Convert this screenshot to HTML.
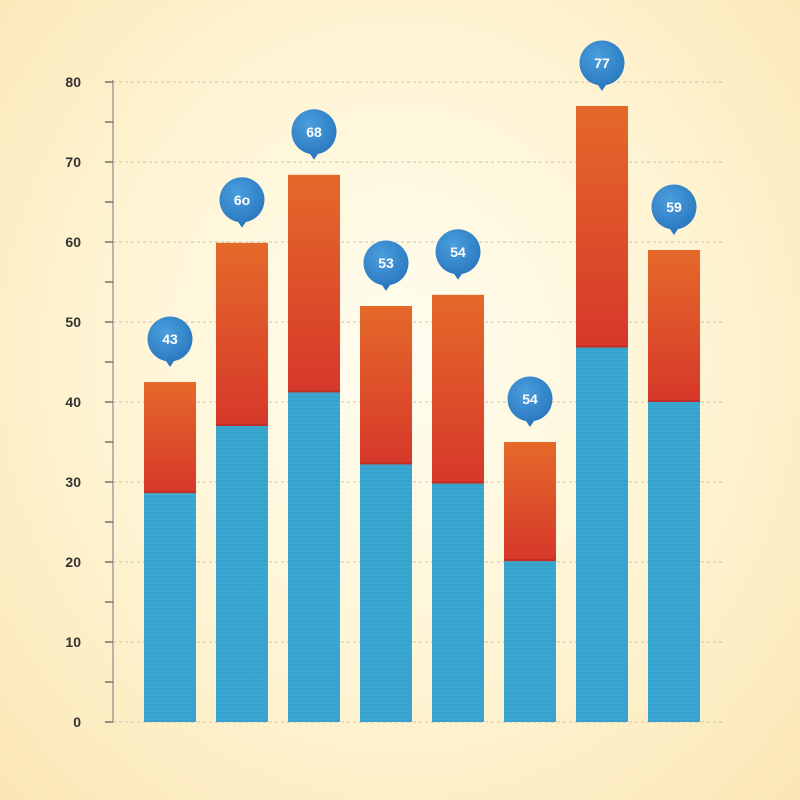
<!DOCTYPE html>
<html><head><meta charset="utf-8"><style>
html,body{margin:0;padding:0;width:800px;height:800px;overflow:hidden}
body{background:radial-gradient(ellipse at 50% 45%,#fffdf0 0%,#fff6d8 45%,#fbe6b4 100%);font-family:"Liberation Sans",sans-serif}
</style></head><body>
<svg id="chart" width="800" height="800" xmlns="http://www.w3.org/2000/svg">
<defs>
<linearGradient id="og" x1="0" y1="0" x2="0" y2="1"><stop offset="0" stop-color="#e5692a"/><stop offset="1" stop-color="#d6382a"/></linearGradient>
<linearGradient id="bg" x1="0" y1="0" x2="0" y2="1"><stop offset="0" stop-color="#3aa8d0"/><stop offset="1" stop-color="#3aa6d3"/></linearGradient>
<pattern id="stripes" width="4" height="4" patternUnits="userSpaceOnUse"><rect width="4" height="2" fill="#2f97c2" opacity="0.35"/></pattern>
<radialGradient id="bub" cx="0.4" cy="0.35" r="0.7"><stop offset="0" stop-color="#4a9fdc"/><stop offset="1" stop-color="#2a78c0"/></radialGradient>
</defs>
<g id="grid"></g><g id="bars"></g><g id="bubbles"></g>
</svg>
<script>
const categories=["A","B","C","D","E","F","G","H"];
const blueValues=[28.6,37,41.2,32.2,29.8,20.1,46.8,40];
const totalValues=[42.5,59.9,68.4,52,53.4,35,77,59];
const bubbleLabels=["43","6o","68","53","54","54","77","59"];
const yTicks=[0,10,20,30,40,50,60,70,80];
const NS="http://www.w3.org/2000/svg";
const y=v=>722-v*8;
const x=i=>144+i*72;
const bw=52;
function mk(t,a,p){const e=document.createElementNS(NS,t);for(const k in a)e.setAttribute(k,a[k]);p.appendChild(e);return e;}
const grid=document.getElementById('grid'),bars=document.getElementById('bars'),bubs=document.getElementById('bubbles');
const ax=mk('line',{x1:113,y1:80,x2:113,y2:722,stroke:'#777','stroke-width':1},grid);


for(let v=0;v<=80;v+=5){
  const tk=mk('line',{x1:105,x2:113,y1:y(v),y2:y(v),stroke:'#555','stroke-width':1.2},grid);
  
  
}
yTicks.forEach(v=>{
  const g=mk('line',{x1:113,x2:722,y1:y(v),y2:y(v),stroke:'#c8c2b0','stroke-width':1,'stroke-dasharray':'3,3'},grid);
  
  
  const t=mk('text',{x:81,y:y(v)+5,'text-anchor':'end','font-size':14,'font-weight':'bold',fill:'#333'},grid);
  t.textContent=v;
  
  
});
categories.forEach((c,i)=>{
  const b=blueValues[i],t=totalValues[i];
  const o=mk('rect',{x:x(i),y:y(t),width:bw,height:y(b)-y(t),fill:'url(#og)'},bars);
  
  
  const bl=mk('rect',{x:x(i),y:y(b),width:bw,height:722-y(b),fill:'url(#bg)'},bars);
  
  
  mk('rect',{x:x(i),y:y(b),width:bw,height:722-y(b),fill:'url(#stripes)'},bars);
  mk('rect',{x:x(i),y:y(b)-2,width:bw,height:2,fill:'#b02a20',opacity:0.6},bars);
  const cx=x(i)+bw/2,cy=y(t)-43;
  const g=mk('g',{},bubs);
  
  
  mk('path',{d:`M${cx-6} ${cy+19} L${cx} ${cy+28} L${cx+6} ${cy+19} Z`,fill:'#2a78c0'},g);
  mk('circle',{cx:cx,cy:cy,r:22.5,fill:'url(#bub)'},g);
  const tx=mk('text',{x:cx,y:cy+5,'text-anchor':'middle','font-size':14,'font-weight':'bold',fill:'#fff'},g);
  tx.textContent=bubbleLabels[i];
});
</script>
</body></html>
